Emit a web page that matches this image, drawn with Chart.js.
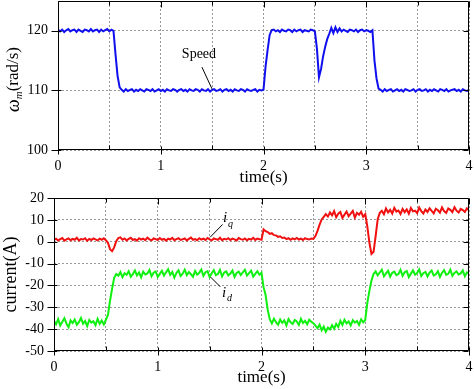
<!DOCTYPE html>
<html>
<head>
<meta charset="utf-8">
<script src="https://cdn.jsdelivr.net/npm/chart.js@4.4.0/dist/chart.umd.min.js"></script>
<style>
  body { margin: 0; background: #fff; width: 474px; height: 389px; overflow: hidden; position: relative; }
  canvas { position: absolute; left: 0; }
  #speedChart { top: 0; }
  #currentChart { top: 190px; }
</style>
</head>
<body>
<canvas id="speedChart" width="474" height="192"></canvas>
<canvas id="currentChart" width="474" height="199"></canvas>

<script>
  // sample times (s)
  var time = [
    0,0.02,0.04,0.06,0.08,0.1,0.12,0.14,0.16,0.18,
    0.2,0.22,0.24,0.26,0.28,0.3,0.32,0.34,0.36,0.38,
    0.4,0.42,0.44,0.46,0.48,0.5,0.52,0.54,0.56,0.58,
    0.6,0.62,0.64,0.66,0.68,0.7,0.72,0.74,0.76,0.78,
    0.8,0.82,0.84,0.86,0.88,0.9,0.92,0.94,0.96,0.98,
    1,1.02,1.04,1.06,1.08,1.1,1.12,1.14,1.16,1.18,
    1.2,1.22,1.24,1.26,1.28,1.3,1.32,1.34,1.36,1.38,
    1.4,1.42,1.44,1.46,1.48,1.5,1.52,1.54,1.56,1.58,
    1.6,1.62,1.64,1.66,1.68,1.7,1.72,1.74,1.76,1.78,
    1.8,1.82,1.84,1.86,1.88,1.9,1.92,1.94,1.96,1.98,
    2,2.02,2.04,2.06,2.08,2.1,2.12,2.14,2.16,2.18,
    2.2,2.22,2.24,2.26,2.28,2.3,2.32,2.34,2.36,2.38,
    2.4,2.42,2.44,2.46,2.48,2.5,2.52,2.54,2.56,2.58,
    2.6,2.62,2.64,2.66,2.68,2.7,2.72,2.74,2.76,2.78,
    2.8,2.82,2.84,2.86,2.88,2.9,2.92,2.94,2.96,2.98,
    3,3.02,3.04,3.06,3.08,3.1,3.12,3.14,3.16,3.18,
    3.2,3.22,3.24,3.26,3.28,3.3,3.32,3.34,3.36,3.38,
    3.4,3.42,3.44,3.46,3.48,3.5,3.52,3.54,3.56,3.58,
    3.6,3.62,3.64,3.66,3.68,3.7,3.72,3.74,3.76,3.78,
    3.8,3.82,3.84,3.86,3.88,3.9,3.92,3.94,3.96,3.98,
    4
  ];

  // rotor speed (rad/s)
  var speed = [
    120.2,119.9,120.2,119.8,120.1,120.3,119.9,120.1,120.2,119.8,
    120.2,120.0,119.8,120.2,120.1,119.9,120.3,119.9,120.1,120.2,
    119.8,120.2,119.9,120.1,120.3,119.9,120.2,120.0,
    116.0,112.4,110.5,
    110.1,109.8,110.2,109.9,110.1,110.2,109.8,110.1,109.9,110.2,
    110.0,109.8,110.2,110.1,109.9,110.2,109.8,110.0,110.2,109.9,
    110.1,109.8,110.2,110.0,109.9,110.2,110.1,109.8,110.1,110.2,
    109.9,110.1,109.8,110.2,110.0,109.9,110.2,110.1,109.8,110.2,
    110.0,109.9,110.2,109.8,110.1,110.2,109.9,110.0,110.2,109.8,
    110.1,110.2,109.9,110.1,109.8,110.2,110.0,109.9,110.2,110.1,
    109.8,110.2,110.0,109.9,110.1,110.2,109.8,110.1,110.0,110.1,
    114.0,116.8,119.3,120.1,
    120.2,119.9,120.1,119.8,120.2,120.0,119.9,120.2,120.1,119.8,
    120.2,119.9,120.1,120.2,119.8,120.1,120.0,119.9,120.2,120.1,
    119.9,
    117.0,112.2,113.6,115.7,117.3,118.6,119.5,120.5,119.6,120.6,119.8,120.4,
    119.9,120.2,120.0,119.8,120.2,120.1,119.9,120.2,119.8,120.1,
    120.2,119.9,120.1,120.0,119.8,120.1,
    115.0,112.0,110.3,
    110.1,109.8,110.2,109.9,110.1,110.2,109.8,110.0,110.2,109.9,
    110.1,109.8,110.2,110.1,109.9,110.0,110.2,109.8,110.1,110.2,
    109.9,110.0,110.2,109.8,110.1,109.9,110.2,110.0,109.8,110.2,
    110.1,109.9,110.2,109.8,110.0,110.1,110.2,109.9,110.1,109.8,
    110.2,110.0,109.9,110.1
  ];

  // q-axis current (A)
  var iq = [
    0.8,1.4,0.6,1.2,1.7,0.5,1.1,1.5,0.7,1.3,
    0.9,1.8,0.6,1.2,1.0,1.6,0.4,1.3,0.8,1.5,
    1.1,0.6,1.4,0.9,1.6,0.7,
    -0.5,-3.4,-4.3,-2.6,0.2,1.7,2.0,
    0.9,1.5,0.6,1.3,1.8,0.8,1.2,0.5,1.6,1.0,
    1.4,0.7,1.9,1.1,0.6,1.5,1.2,0.8,1.7,0.9,
    1.3,0.5,1.4,1.0,1.8,0.7,1.2,1.6,0.8,1.1,
    1.5,0.6,1.3,1.9,0.9,1.2,0.7,1.6,1.0,1.4,
    0.8,1.7,1.1,0.6,1.5,1.2,0.9,1.8,0.7,1.3,
    1.0,1.6,0.8,1.4,1.1,0.6,1.7,1.2,0.9,1.5,
    0.7,1.3,1.0,1.8,0.8,1.4,1.1,0.9,
    5.6,4.8,4.4,3.6,3.9,3.0,2.9,2.2,2.5,1.7,
    1.9,1.2,1.6,0.9,1.5,1.1,1.7,1.0,1.4,0.8,1.6,1.2,1.0,1.5,1.3,
    2.6,5.0,7.8,10.2,11.4,12.6,
    11.5,13.4,12.1,14.0,11.2,12.8,13.6,10.9,12.4,13.8,
    11.6,12.9,14.1,11.0,13.2,12.3,13.7,11.4,12.6,
    7.0,-0.5,-5.6,-4.6,2.5,10.3,13.2,
    14.1,12.6,15.2,13.4,14.6,12.9,15.5,13.8,14.3,12.7,
    15.0,13.5,14.8,12.8,15.4,13.9,14.2,13.1,15.6,14.0,
    12.9,14.7,13.6,15.3,14.1,13.0,15.1,14.4,13.3,15.7,
    14.0,13.2,15.2,14.6,13.5,15.8,14.2,13.4,15.0,14.5,
    13.6,15.3,14.4
  ];

  // d-axis current (A)
  var idCurrent = [
    -36.2,-37.8,-35.4,-38.3,-36.6,-35.0,-37.4,-39.1,-36.0,-37.2,
    -35.6,-38.0,-36.8,-34.9,-37.5,-36.3,-38.6,-35.8,-37.0,-36.4,
    -38.2,-35.3,-37.6,-36.1,-37.9,-35.7,
    -33.5,-27.0,-21.5,-16.5,-14.8,
    -15.6,-13.9,-16.2,-14.4,-15.1,-13.5,-16.0,-14.8,-13.2,-15.4,
    -14.1,-16.3,-13.7,-15.0,-14.5,-12.9,-15.8,-14.2,-13.6,-16.1,
    -14.7,-13.3,-15.5,-14.0,-12.6,-15.2,-13.8,-16.4,-14.3,-13.1,
    -15.7,-14.6,-12.8,-15.3,-13.9,-14.9,-16.0,-13.4,-15.1,-14.2,
    -12.7,-15.6,-14.0,-13.5,-16.2,-14.4,-13.0,-15.3,-14.8,-12.9,
    -15.9,-14.1,-13.6,-15.4,-14.6,-13.2,-16.1,-14.3,-13.7,-15.2,
    -14.0,-12.8,-15.5,-14.4,-13.3,-16.0,-14.7,-13.5,-15.1,-14.2,
    -20.8,-24.5,-31.2,-35.6,
    -37.4,-35.2,-36.8,-38.0,-35.6,-37.1,-36.0,-38.3,-35.4,-36.9,
    -37.6,-35.8,-36.5,-38.1,-35.3,-37.2,-36.2,-37.8,-35.7,-36.6,
    -37.3,
    -38.4,-39.6,-37.9,-40.5,-38.8,-41.2,-39.3,-40.1,-38.2,-39.8,
    -37.6,-39.0,-36.2,-38.1,-35.7,-37.4,-36.5,-38.3,-35.9,-37.0,
    -36.3,-38.0,-35.5,-36.9,-35.8,
    -28.0,-22.5,-17.8,-14.8,
    -13.6,-15.4,-14.1,-12.8,-15.8,-14.5,-13.3,-16.0,-14.2,-13.7,
    -15.3,-14.8,-12.9,-15.6,-14.0,-13.4,-16.2,-14.6,-13.1,-15.1,
    -14.3,-12.7,-15.7,-14.4,-13.8,-15.9,-14.1,-13.2,-15.5,-14.9,
    -13.5,-16.1,-14.2,-13.0,-15.2,-14.7,-12.8,-15.6,-14.3,-13.6,
    -15.0,-14.5,-13.1,-15.8,-14.0,-14.6
  ];

  var timeTicks = [0, 0.5, 1, 1.5, 2, 2.5, 3, 3.5, 4];
  var speedTicks = [100, 110, 120];
  var currentTicks = [-50, -40, -30, -20, -10, 0, 10, 20];

  Chart.defaults.font.family = 'Liberation Serif';
  Chart.defaults.color = '#000';

  function points(ys) {
    return time.map(function (t, i) { return { x: t, y: ys[i] }; });
  }

  // box round the plot area plus the small tick marks
  var framePlugin = {
    id: 'frame',
    afterDatasetsDraw: function (chart) {
      var a = chart.chartArea, ctx = chart.ctx;
      var xs = chart.scales.x, ys = chart.scales.y;
      var L = Math.round(a.left) + 0.5, R = Math.round(a.right) - 0.5;
      var T = Math.round(a.top) + 0.5, B = Math.round(a.bottom) - 0.5;
      ctx.save();
      ctx.strokeStyle = '#000';
      ctx.lineWidth = 1;
      ctx.beginPath();
      ctx.rect(L, T, R - L, B - T);
      xs.ticks.forEach(function (tk) {
        var px = Math.round(xs.getPixelForValue(tk.value)) + 0.5;
        var major = Number.isInteger(tk.value);
        if (major) {
          ctx.moveTo(px, B + 5); ctx.lineTo(px, B - 3);
          ctx.moveTo(px, T); ctx.lineTo(px, T + 6);
        } else {
          ctx.moveTo(px, B); ctx.lineTo(px, B - 4);
          ctx.moveTo(px, T); ctx.lineTo(px, T + 4);
        }
      });
      ys.ticks.forEach(function (tk) {
        var py = Math.round(ys.getPixelForValue(tk.value)) + 0.5;
        ctx.moveTo(L - 7, py); ctx.lineTo(L + 3, py);
        ctx.moveTo(R, py); ctx.lineTo(R - 5, py);
      });
      ctx.stroke();
      ctx.restore();
    }
  };

  // rotated y title (with subscript) and the labels with leader lines
  var textPlugin = {
    id: 'notes',
    afterDatasetsDraw: function (chart, args, opts) {
      var ctx = chart.ctx, a = chart.chartArea;
      var xs = chart.scales.x, ys = chart.scales.y;
      ctx.save();
      ctx.fillStyle = '#000';
      ctx.strokeStyle = '#000';
      ctx.lineWidth = 1;

      // y title
      var parts = opts.title;
      var total = 0;
      parts.forEach(function (p) {
        ctx.font = (p.italic ? 'italic ' : '') + p.size + 'px "Liberation Serif"';
        p.w = ctx.measureText(p.text).width;
        total += p.w;
      });
      ctx.translate(opts.titleX, (a.top + a.bottom) / 2 + opts.titleDy);
      ctx.rotate(-Math.PI / 2);
      ctx.textBaseline = 'middle';
      ctx.textAlign = 'left';
      var cx = -total / 2;
      parts.forEach(function (p) {
        ctx.font = (p.italic ? 'italic ' : '') + p.size + 'px "Liberation Serif"';
        ctx.fillText(p.text, cx, p.sub ? 5 : 0);
        cx += p.w;
      });
      ctx.setTransform(1, 0, 0, 1, 0, 0);

      // labels
      opts.labels.forEach(function (lb) {
        ctx.beginPath();
        ctx.moveTo(xs.getPixelForValue(lb.from[0]), ys.getPixelForValue(lb.from[1]));
        ctx.lineTo(xs.getPixelForValue(lb.to[0]), ys.getPixelForValue(lb.to[1]));
        ctx.stroke();
        var px = xs.getPixelForValue(lb.at[0]), py = ys.getPixelForValue(lb.at[1]);
        ctx.textBaseline = 'middle';
        ctx.textAlign = 'center';
        ctx.font = (lb.italic ? 'italic ' : '') + lb.size + 'px "Liberation Serif"';
        ctx.fillText(lb.text, px, py);
        if (lb.sub) {
          ctx.textAlign = 'left';
          ctx.font = 'italic 10px "Liberation Serif"';
          ctx.fillText(lb.sub, px + 3, py + 6);
        }
      });
      ctx.restore();
    }
  };

  function xAxis(height, titlePad) {
    return {
      type: 'linear',
      min: 0, max: 4,
      afterBuildTicks: function (s) { s.ticks = timeTicks.map(function (v) { return { value: v }; }); },
      afterFit: function (s) {
        s.height = height;
        s.paddingLeft = 0; s.paddingRight = 0; s.paddingTop = 0; s.paddingBottom = 0;
      },
      grid: { color: '#9a9a9a', lineWidth: 1, drawTicks: false },
      border: { display: false, dash: [2, 2] },
      ticks: {
        autoSkip: false, maxRotation: 0, padding: 8,
        font: { size: 14 },
        callback: function (v) { return Number.isInteger(v) ? v : ''; }
      },
      title: {
        display: true, text: 'time(s)',
        font: { size: 17 },
        padding: { top: 0, bottom: titlePad }
      }
    };
  }

  function yAxis(min, max, tickVals, width) {
    return {
      min: min, max: max,
      afterBuildTicks: function (s) { s.ticks = tickVals.map(function (v) { return { value: v }; }); },
      afterFit: function (s) {
        s.width = width;
        s.paddingLeft = 0; s.paddingRight = 0; s.paddingTop = 0; s.paddingBottom = 0;
      },
      grid: { color: '#9a9a9a', lineWidth: 1, drawTicks: false },
      border: { display: false, dash: [2, 2] },
      ticks: { padding: 10, font: { size: 14 } }
    };
  }

  new Chart(document.getElementById('speedChart').getContext('2d'), {
    type: 'line',
    data: {
      datasets: [{
        label: 'Speed',
        data: points(speed),
        borderColor: '#1010ee',
        borderWidth: 2,
        pointRadius: 0,
        tension: 0
      }]
    },
    options: {
      responsive: false,
      animation: false,
      layout: { padding: { top: 1, right: 5, bottom: 0, left: 0 } },
      scales: {
        x: xAxis(42, 4),
        y: yAxis(100, 125, speedTicks, 58)
      },
      plugins: {
        legend: { display: false },
        tooltip: { enabled: false },
        notes: {
          titleX: 14, titleDy: 4,
          title: [
            { text: 'ω', italic: true, size: 18 },
            { text: 'm', italic: true, size: 11, sub: true },
            { text: '(rad/s)', size: 17 }
          ],
          labels: [
            { text: 'Speed', size: 14, at: [1.372, 116.1], from: [1.401, 113.9], to: [1.499, 110.25] }
          ]
        }
      }
    },
    plugins: [framePlugin, textPlugin]
  });

  new Chart(document.getElementById('currentChart').getContext('2d'), {
    type: 'line',
    data: {
      datasets: [{
        label: 'iq',
        data: points(iq),
        borderColor: '#f01010',
        borderWidth: 2,
        pointRadius: 0,
        tension: 0
      }, {
        label: 'id',
        data: points(idCurrent),
        borderColor: '#10f010',
        borderWidth: 2,
        pointRadius: 0,
        tension: 0
      }]
    },
    options: {
      responsive: false,
      animation: false,
      layout: { padding: { top: 8, right: 5, bottom: 0, left: 0 } },
      scales: {
        x: xAxis(38, 1),
        y: yAxis(-50, 20, currentTicks, 54)
      },
      plugins: {
        legend: { display: false },
        tooltip: { enabled: false },
        notes: {
          titleX: 11, titleDy: 0,
          title: [
            { text: 'current(A)', size: 18 }
          ],
          labels: [
            { text: 'i', sub: 'q', italic: true, size: 15, at: [1.648, 10.6], from: [1.625, 7.9], to: [1.504, 2.0] },
            { text: 'i', sub: 'd', italic: true, size: 15, at: [1.639, -23.4], from: [1.602, -20.6], to: [1.51, -16.2] }
          ]
        }
      }
    },
    plugins: [framePlugin, textPlugin]
  });
</script>
</body>
</html>
